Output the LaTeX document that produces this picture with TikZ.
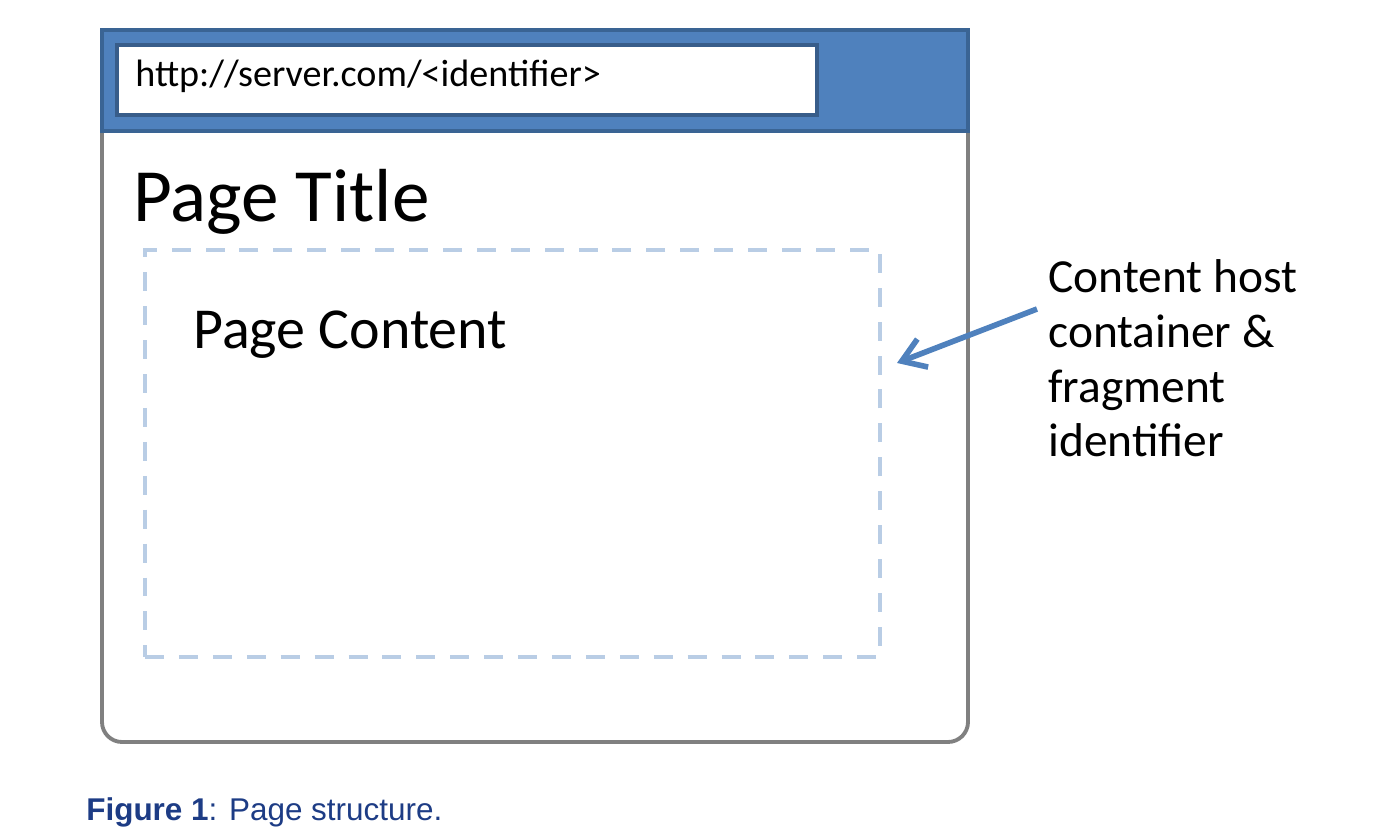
\documentclass[tikz,border=0pt]{standalone}
\usepackage{fontspec}
\setmainfont{Carlito}
\newfontfamily\capfont{Liberation Sans}
\usetikzlibrary{arrows.meta}
\definecolor{barblue}{HTML}{4F81BD}
\definecolor{bardark}{HTML}{3A6494}
\definecolor{urledge}{HTML}{385D8A}
\definecolor{framegray}{HTML}{808080}
\definecolor{dashblue}{HTML}{B9CDE5}
\definecolor{capblue}{HTML}{1D3C85}
\begin{document}
\begin{tikzpicture}[x=0.02cm, y=-0.02cm,
  txt/.style={anchor=base west, inner sep=0pt},
  pointer/.style={-{Straight Barb[length=0.45cm, width=0.6cm]}, barblue, line width=3.2pt}]
\useasboundingbox (0,0) rectangle (1382,830);
% browser window
\draw[framegray, line width=2.2pt, rounded corners=0.4cm] (102,131) -- (102,742) -- (968,742) -- (968,131);
\draw[fill=barblue, draw=bardark, line width=2pt] (102,30) rectangle (968,131);
\node[draw=urledge, fill=white, line width=2.6pt, minimum width=14cm, minimum height=1.4cm] (url) at (467,80){};
\node[txt, font=\fontsize{21.7}{24}\selectfont] (addr) at (135,87){http://server.com/<identifier>};
\node[txt, font=\fontsize{42.8}{48}\selectfont] (title) at (133,222){Page Title};
% content host
\node[draw=dashblue, line width=2.2pt, dash pattern=on 10.8pt off 8.5pt, minimum width=14.7cm, minimum height=8.14cm] (content) at (512.5,453.5){};
\node[txt, font=\fontsize{33}{36}\selectfont] (body) at (193,349){Page Content};
\node[txt, align=left, font=\fontsize{27}{31.2}\selectfont] (host) at (1048,457){Content host\\container \&\\fragment\\identifier};
\coordinate (tail) at (1037,309);
\coordinate (tip) at (897,363);
\draw[pointer] (tail) -- (tip);
% caption
\node[txt, text=capblue, font=\capfont\fontsize{17.9}{20}\selectfont] (cap) at (86,820){\textbf{Figure 1}: Page structure.};
\end{tikzpicture}
\end{document}
